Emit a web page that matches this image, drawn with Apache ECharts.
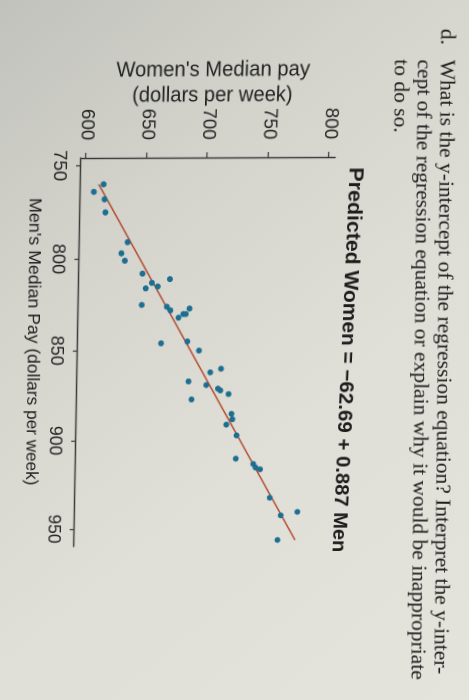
<!DOCTYPE html>
<html>
<head>
<meta charset="utf-8">
<script src="https://cdn.jsdelivr.net/npm/echarts@6/dist/echarts.min.js"></script>
<style>
  html, body { margin: 0; padding: 0; width: 469px; height: 700px; overflow: hidden; }
  body { background: linear-gradient(140deg, #c2c2bc 0%, #d4d4cd 30%, #dfdfd7 60%, #e4e4dc 100%); }
  #frame { position: absolute; left: 0; top: 0; width: 700px; height: 469px; transform-origin: 0 0; }
  #qframe { position: absolute; left: 0; top: 0; width: 700px; height: 469px; transform-origin: 0 0;
            transform: translate(469px, 0) rotate(90.6deg); }
</style>
</head>
<body>
<div id="qframe"></div>
<div id="frame"></div>
<script>
// ---- data ----
const menPay = [764, 760, 768, 775, 791, 797, 801, 808, 813, 816, 815, 811, 825, 826, 828, 832, 830, 830, 827, 846, 845, 850, 862, 860, 867, 877, 869, 871, 872, 874, 885, 888, 891, 897, 910, 913, 915, 916, 932, 942, 940, 956];
const womenPay = [607, 615, 616, 617, 636, 631, 634, 649, 657, 652, 662, 672, 649, 670, 673, 680, 684, 686, 689, 666, 688, 698, 708, 717, 690, 693, 705, 715, 717, 724, 727, 728, 723, 732, 732, 747, 749, 753, 762, 772, 786, 770];
const fitMen = [760, 956];
const fitWomen = [611, 785];
const menTicks = [750, 800, 850, 900, 950];
const womenTicks = [600, 650, 700, 750, 800];
const chartTitle = 'Predicted Women = \u221262.69 + 0.887 Men';
const womenTitle = "Women's Median pay\n(dollars per week)";
const menTitle = "Men's Median Pay (dollars per week)";
const questionLabel = 'd.';
const questionLines = [
  'What is the y-intercept of the regression equation? Interpret the y-inter-',
  'cept of the regression equation or explain why it would be inappropriate',
  'to do so.'
];

const sans = '"Liberation Sans", Arial, Helvetica, sans-serif';
const serif = '"Liberation Serif", "Times New Roman", serif';

// ---- the page text above the chart (printed question) ----
const qChart = echarts.init(document.getElementById('qframe'), null, { width: 700, height: 469, renderer: 'canvas', devicePixelRatio: 2 });
const qStyle = { fontFamily: serif, fontSize: 21.5, fill: '#1b1b1b', align: 'left', verticalAlign: 'middle' };
qChart.setOption({
  animation: false,
  backgroundColor: 'transparent',
  graphic: [
    { type: 'text', x: 29, y: 22, style: Object.assign({ text: questionLabel }, qStyle) },
    { type: 'text', x: 60, y: 22, style: Object.assign({ text: questionLines[0] }, qStyle) },
    { type: 'text', x: 60, y: 45, style: Object.assign({ text: questionLines[1] }, qStyle) },
    { type: 'text', x: 60, y: 68, style: Object.assign({ text: questionLines[2] }, qStyle) }
  ]
});

// ---- the chart ----
const el = document.getElementById('frame');
const chart = echarts.init(el, null, { width: 700, height: 469, renderer: 'canvas', devicePixelRatio: 2 });

const scatterData = menPay.map((m, i) => [m, womenPay[i]]);
const fitData = fitMen.map((m, i) => [m, fitWomen[i]]);

chart.setOption({
  animation: false,
  backgroundColor: 'transparent',
  title: {
    text: chartTitle, left: 168, top: 104, padding: 0,
    textStyle: { fontFamily: sans, fontWeight: 'bold', fontSize: 20.7, color: '#1c1c1c' }
  },
  grid: { left: 158, top: 135, width: 389, height: 253, containLabel: false },
  xAxis: {
    type: 'value', min: 746, max: 960,
    axisLine: { show: true, onZero: false, lineStyle: { color: '#3a3a3a', width: 1.4 } },
    axisTick: { show: true, length: 5, customValues: menTicks, lineStyle: { color: '#3a3a3a', width: 1.2 } },
    axisLabel: { customValues: menTicks, margin: 13, fontFamily: sans, fontSize: 18, color: '#262626' },
    splitLine: { show: false }
  },
  yAxis: {
    type: 'value', min: 596, max: 805,
    axisLine: { show: true, onZero: false, lineStyle: { color: '#3a3a3a', width: 1.4 } },
    axisTick: { show: true, length: 5, customValues: womenTicks, lineStyle: { color: '#3a3a3a', width: 1.2 } },
    axisLabel: { customValues: womenTicks, margin: 17, fontFamily: sans, fontSize: 18, color: '#262626' },
    splitLine: { show: false }
  },
  graphic: [
    { type: 'text', x: 87, y: 259, rotation: Math.PI / 2,
      style: { text: womenTitle, fontFamily: sans, fontSize: 20, lineHeight: 24, fill: '#1f1f1f', align: 'center', verticalAlign: 'middle' } },
    { type: 'text', x: 340, y: 434,
      style: { text: menTitle, fontFamily: sans, fontSize: 17.5, fill: '#1f1f1f', align: 'center', verticalAlign: 'middle' } }
  ],
  series: [
    { type: 'line', data: fitData, showSymbol: false, symbol: 'none', z: 2,
      lineStyle: { color: '#b3482c', width: 1.5 } },
    { type: 'scatter', data: scatterData, symbolSize: 6, z: 3,
      itemStyle: { color: '#1d6e90', opacity: 1 } }
  ]
});

// ---- photo perspective: map the chart frame onto the photographed page ----
function solveHomography(src, dst) {
  const A = [], b = [];
  for (let i = 0; i < 4; i++) {
    const x = src[i][0], y = src[i][1], X = dst[i][0], Y = dst[i][1];
    A.push([x, y, 1, 0, 0, 0, -x * X, -y * X]); b.push(X);
    A.push([0, 0, 0, x, y, 1, -x * Y, -y * Y]); b.push(Y);
  }
  const n = 8;
  for (let c = 0; c < n; c++) {
    let p = c;
    for (let r = c + 1; r < n; r++) if (Math.abs(A[r][c]) > Math.abs(A[p][c])) p = r;
    [A[c], A[p]] = [A[p], A[c]]; [b[c], b[p]] = [b[p], b[c]];
    for (let r = 0; r < n; r++) {
      if (r === c) continue;
      const f = A[r][c] / A[c][c];
      for (let k = c; k < n; k++) A[r][k] -= f * A[c][k];
      b[r] -= f * b[c];
    }
  }
  return b.map((v, i) => v / A[i][i]);
}
const srcPts = [
  chart.convertToPixel({ gridIndex: 0 }, [746, 600]),
  chart.convertToPixel({ gridIndex: 0 }, [746, 800]),
  chart.convertToPixel({ gridIndex: 0 }, [950, 596]),
  chart.convertToPixel({ gridIndex: 0 }, [956, 785])
];
const dstPts = [[86, 158], [329, 157], [74.5, 529], [295, 540]];
const h = solveHomography(srcPts, dstPts);
el.style.transform = 'matrix3d(' + [h[0], h[3], 0, h[6], h[1], h[4], 0, h[7], 0, 0, 1, 0, h[2], h[5], 0, 1].join(',') + ')';
</script>
</body>
</html>
